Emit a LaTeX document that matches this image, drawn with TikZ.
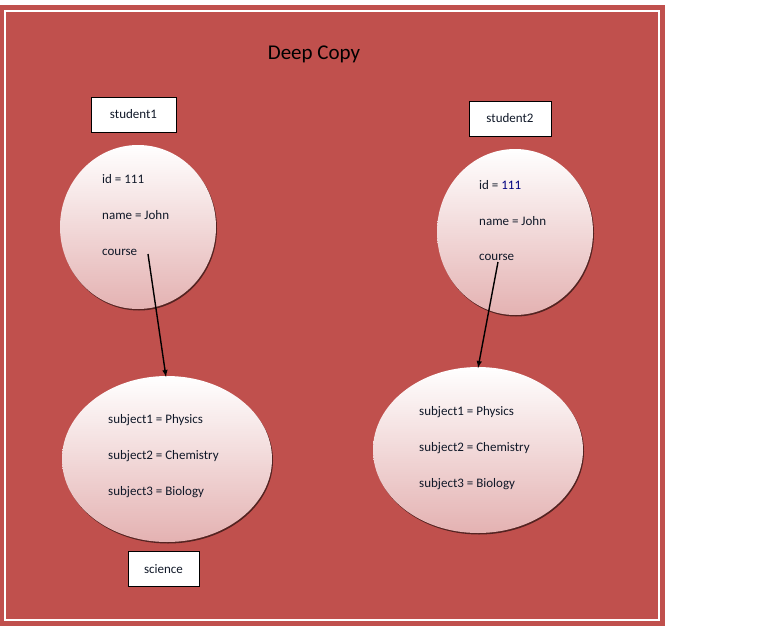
\documentclass[tikz,border=0pt]{standalone}
\usepackage{fontspec}
\setmainfont{Carlito}
\usetikzlibrary{shadows,shapes.geometric}
\definecolor{bg}{HTML}{C0504D}
\definecolor{ink}{HTML}{101828}
\begin{document}
\begin{tikzpicture}[x=1pt,y=-1pt,
  obj/.style={ellipse,draw=none,inner sep=0pt,top color=white,bottom color={rgb,255:red,228;green,178;blue,178},
    drop shadow={shadow xshift=1pt,shadow yshift=-1.5pt,fill=black!70!bg,opacity=0.8}},
  lbl/.style={draw=black,fill=white,line width=0.6pt,minimum width=#1,minimum height=35pt,inner sep=0pt,text=ink,font=\fontsize{13}{15}\selectfont},
  txt/.style={anchor=west,text=ink,inner sep=0pt,font=\fontsize{13}{15}\selectfont},
  arr/.style={-latex,line width=1.4pt}]
\useasboundingbox (0,0) rectangle (768,634);
\fill[bg] (0,5) rectangle (665,626);
\draw[white,line width=1.5pt] (5,11) rectangle (659,620);
\node[text=black,font=\fontsize{21}{24}\selectfont] (title) at (314,54) {Deep Copy};
\node[lbl=85pt] (s1) at (133.5,114.5) {student1};
\node[lbl=82pt] (s2) at (510,118.5) {student2};
\node[lbl=71pt] (sc) at (163.5,569) {science};
\node[obj,minimum width=156pt,minimum height=164pt] (e1) at (138,227) {};
\node[obj,minimum width=156pt,minimum height=166pt] (e2) at (515,232) {};
\node[obj,minimum width=210pt,minimum height=166pt] (e3) at (167,459) {};
\node[obj,minimum width=210pt,minimum height=166pt] (e4) at (478,450) {};
\node[txt] (a1) at (102,179) {id = 111};
\node[txt] (a2) at (102,215) {name = John};
\node[txt] (a3) at (102,252) {course};
\node[txt] (b1) at (479,185) {id = \textcolor{blue!50!black}{111}};
\node[txt] (b2) at (479,221) {name = John};
\node[txt] (b3) at (479,257) {course};
\node[txt] (c1) at (108,420) {subject1 = Physics};
\node[txt] (c2) at (108,456) {subject2 = Chemistry};
\node[txt] (c3) at (108,492) {subject3 = Biology};
\node[txt] (d1) at (419,412) {subject1 = Physics};
\node[txt] (d2) at (419,448) {subject2 = Chemistry};
\node[txt] (d3) at (419,484) {subject3 = Biology};
\coordinate (p1) at (148,254);
\coordinate (q1) at (166,377);
\coordinate (p2) at (498,262);
\coordinate (q2) at (478,368);
\draw[arr] (p1) -- (q1);
\draw[arr] (p2) -- (q2);
\end{tikzpicture}
\end{document}
